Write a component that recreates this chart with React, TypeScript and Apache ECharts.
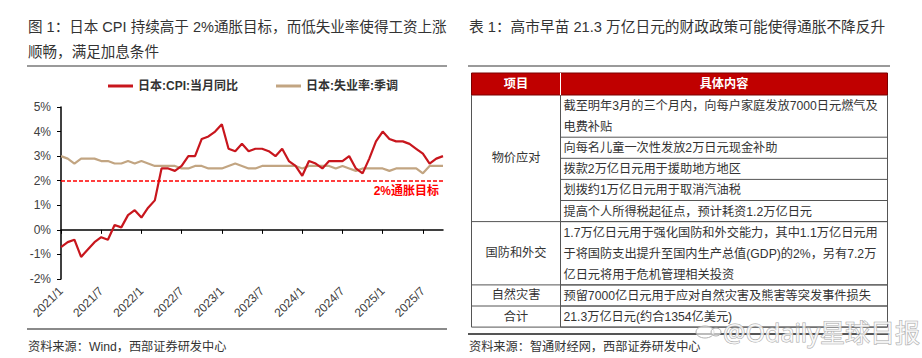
import React, { useEffect, useRef } from "react";
import * as echarts from "echarts";

// ---------- data ----------
const months: string[] = [];
for (let y = 2021; y <= 2025; y++) {
  for (let m = 1; m <= 12; m++) {
    if (y === 2025 && m > 10) break;
    months.push(`${y}/${m}`);
  }
}

const cpiYoY = [
  -0.7, -0.5, -0.4, -1.1, -0.8, -0.5, -0.3, -0.4, 0.2, 0.1, 0.6, 0.8,
  0.5, 0.9, 1.2, 2.5, 2.5, 2.4, 2.6, 3.0, 3.0, 3.7, 3.8, 4.0,
  4.3, 3.3, 3.2, 3.5, 3.2, 3.3, 3.3, 3.2, 3.0, 3.3, 2.8, 2.6,
  2.2, 2.8, 2.7, 2.5, 2.8, 2.8, 2.8, 3.0, 2.5, 2.3, 2.9, 3.6,
  4.0, 3.7, 3.6, 3.6, 3.5, 3.3, 3.1, 2.7, 2.9, 3.0,
];

const unemployment = [
  3.0, 2.9, 2.7, 2.9, 2.9, 2.9, 2.8, 2.8, 2.7, 2.7, 2.8, 2.7,
  2.8, 2.7, 2.6, 2.6, 2.6, 2.6, 2.5, 2.5, 2.6, 2.6, 2.5, 2.5,
  2.5, 2.6, 2.7, 2.6, 2.5, 2.5, 2.6, 2.6, 2.6, 2.6, 2.6, 2.6,
  2.5, 2.6, 2.6, 2.6, 2.6, 2.5, 2.6, 2.5, 2.4, 2.5, 2.5, 2.5,
  2.5, 2.4, 2.5, 2.5, 2.5, 2.5, 2.3, 2.6, 2.6, 2.6,
];

const seriesNames = ["日本:CPI:当月同比", "日本:失业率:季调"];
const inflationTarget = 2;
const targetLabel = "2%通胀目标";

const leftTitle = [
  "图 1：日本 CPI 持续高于 2%通胀目标，而低失业率使得工资上涨",
  "顺畅，满足加息条件",
];
const leftSource = "资料来源：Wind，西部证券研发中心";

const rightTitle = "表 1：高市早苗 21.3 万亿日元的财政政策可能使得通胀不降反升";
const rightSource = "资料来源：智通财经网，西部证券研发中心";
const tableHeader = ["项目", "具体内容"];
const tableGroups = [
  {
    item: "物价应对",
    rows: [
      ["截至明年3月的三个月内，向每户家庭发放7000日元燃气及", "电费补贴"],
      ["向每名儿童一次性发放2万日元现金补助"],
      ["拨款2万亿日元用于援助地方地区"],
      ["划拨约1万亿日元用于取消汽油税"],
      ["提高个人所得税起征点，预计耗资1.2万亿日元"],
    ],
  },
  {
    item: "国防和外交",
    rows: [
      [
        "1.7万亿日元用于强化国防和外交能力，其中1.1万亿日元用",
        "于将国防支出提升至国内生产总值(GDP)的2%，另有7.2万",
        "亿日元将用于危机管理相关投资",
      ],
    ],
  },
  { item: "自然灾害", rows: [["预留7000亿日元用于应对自然灾害及熊害等突发事件损失"]] },
  { item: "合计", rows: [["21.3万亿日元(约合1354亿美元)"]] },
];
const watermark = "@Odaily星球日报";

// ---------- styles ----------
const FONT = "'Liberation Sans', 'Noto Sans CJK SC', sans-serif";
const RED = "#C8161D";
const TAN = "#C2A582";
const TEXT = "#333333";

function buildGraphics() {
  const els: any[] = [];
  const txt = (text: string, x: number, y: number, opts: any = {}) =>
    els.push({
      type: "text",
      silent: true,
      style: {
        text,
        x,
        y,
        fill: opts.fill || TEXT,
        fontSize: opts.fontSize || 12,
        fontWeight: opts.fontWeight || "normal",
        fontFamily: FONT,
        textAlign: opts.align || "left",
        textVerticalAlign: "middle",
      },
      z: 10,
    });
  const hline = (x1: number, x2: number, y: number, color: string, w: number) =>
    els.push({
      type: "line",
      silent: true,
      shape: { x1, y1: y, x2, y2: y },
      style: { stroke: color, lineWidth: w },
      z: 5,
    });
  const vline = (x: number, y1: number, y2: number, color: string, w: number) =>
    els.push({
      type: "line",
      silent: true,
      shape: { x1: x, y1, x2: x, y2 },
      style: { stroke: color, lineWidth: w },
      z: 5,
    });

  // left panel
  txt(leftTitle[0], 28, 27, { fontSize: 14.55 });
  txt(leftTitle[1], 28, 52, { fontSize: 14.55 });
  hline(27, 447, 66, "#9a9a9a", 2);
  hline(27, 447, 329, "#8a8a8a", 2);
  txt(leftSource, 28, 347, { fontSize: 12.2 });

  // right panel
  txt(rightTitle, 469, 27, { fontSize: 14.7 });
  hline(468, 890, 66, "#9a9a9a", 2);
  hline(468, 890, 334, "#555555", 2);
  txt(rightSource, 469, 347, { fontSize: 12.2 });

  // table
  const x0 = 471.5, x1 = 560.5, x2 = 887.5;
  const headTop = 73, headBot = 95;
  const lineH = 21.1;
  els.push({
    type: "rect",
    silent: true,
    shape: { x: x0, y: headTop, width: x2 - x0, height: headBot - headTop },
    style: { fill: "#C00000", stroke: "#7a0000", lineWidth: 1 },
    z: 4,
  });
  vline(x1, headTop, headBot, "#ffffff", 1);
  txt(tableHeader[0], (x0 + x1) / 2, (headTop + headBot) / 2, {
    fill: "#ffffff", fontWeight: "bold", align: "center", fontSize: 12.2,
  });
  txt(tableHeader[1], (x1 + x2) / 2, (headTop + headBot) / 2, {
    fill: "#ffffff", fontWeight: "bold", align: "center", fontSize: 12.2,
  });

  let y = headBot;
  const border = "#555555";
  tableGroups.forEach((g) => {
    const gTop = y;
    g.rows.forEach((lines) => {
      const rTop = y;
      lines.forEach((ln, i) => {
        txt(ln, x1 + 3, rTop + lineH * i + lineH / 2 + 0.5, { fontSize: 12.2 });
      });
      y = rTop + lines.length * lineH;
      hline(x1, x2, y, border, 1);
    });
    txt(g.item, (x0 + x1) / 2, (gTop + y) / 2, { align: "center", fontSize: 12.2 });
    hline(x0, x2, y, border, 1);
  });
  vline(x0, headBot, y, border, 1);
  vline(x1, headBot, y, border, 1);
  vline(x2, headBot, y, border, 1);

  // watermark
  els.push({
    type: "ellipse",
    silent: true,
    shape: { cx: 705, cy: 332, rx: 9, ry: 6 },
    style: { fill: "rgba(255,255,255,0.6)", stroke: "#b0b0b0", lineWidth: 1 },
    z: 20,
  });
  els.push({
    type: "ellipse",
    silent: true,
    shape: { cx: 716, cy: 332, rx: 5, ry: 4 },
    style: { fill: "rgba(255,255,255,0.6)", stroke: "#b0b0b0", lineWidth: 1 },
    z: 20,
  });
  els.push({
    type: "text",
    silent: true,
    style: {
      text: watermark,
      x: 723,
      y: 332,
      fill: "rgba(255,255,255,0.75)",
      stroke: "#a8a8a8",
      lineWidth: 1,
      fontSize: 25,
      fontFamily: "'Noto Sans', 'Noto Sans CJK SC', sans-serif",
      textVerticalAlign: "middle",
    },
    z: 20,
  });
  return els;
}

export default function App() {
  const ref = useRef<HTMLDivElement>(null);
  useEffect(() => {
    if (!ref.current) return;
    const chart = echarts.init(ref.current, null, { renderer: "svg" });
    chart.setOption({
      animation: false,
      backgroundColor: "#ffffff",
      textStyle: { fontFamily: FONT },
      legend: {
        data: seriesNames,
        left: 103,
        top: 75,
        itemWidth: 25,
        itemHeight: 3,
        itemGap: 38,
        icon: "rect",
        textStyle: { fontSize: 12, fontWeight: "bold", color: TEXT, fontFamily: FONT },
      },
      grid: { left: 61, right: 479, top: 107, bottom: 79, containLabel: false },
      xAxis: [
        {
          type: "category",
          data: months,
          boundaryGap: false,
          position: "bottom",
          axisLine: { show: false, onZero: false },
          axisTick: { show: false },
          axisLabel: {
            interval: 5,
            rotate: 45,
            margin: 10,
            fontSize: 12,
            color: "#404040",
            fontFamily: FONT,
          },
        },
        {
          type: "category",
          data: months,
          boundaryGap: false,
          position: "bottom",
          axisLine: { show: true, onZero: true, lineStyle: { color: "#000", width: 1.5 } },
          axisTick: { show: true, interval: 5, length: 4, lineStyle: { color: "#000", width: 1 } },
          axisLabel: { show: false },
        },
      ],
      yAxis: {
        type: "value",
        min: -2,
        max: 5,
        interval: 1,
        axisLine: { show: true, lineStyle: { color: "#000", width: 1.5 } },
        axisTick: { show: true, length: 4, lineStyle: { color: "#000" } },
        splitLine: { show: false },
        axisLabel: {
          formatter: "{value}%",
          fontSize: 12,
          color: "#404040",
          margin: 10,
          fontFamily: FONT,
        },
      },
      series: [
        {
          name: seriesNames[1],
          type: "line",
          data: unemployment,
          symbol: "none",
          lineStyle: { color: TAN, width: 2.2 },
          itemStyle: { color: TAN },
          z: 3,
        },
        {
          name: seriesNames[0],
          type: "line",
          data: cpiYoY,
          symbol: "none",
          lineStyle: { color: RED, width: 2.2 },
          itemStyle: { color: RED },
          z: 4,
          markLine: {
            silent: true,
            symbol: "none",
            data: [{ yAxis: inflationTarget }],
            lineStyle: { color: "#FF0000", type: [4, 2], width: 1.5 },
            label: {
              show: true,
              position: "insideEndBottom",
              formatter: targetLabel,
              color: "#FF0000",
              fontWeight: "bold",
              fontSize: 12,
              distance: 4,
              fontFamily: FONT,
            },
          },
        },
      ],
      graphic: { elements: buildGraphics() },
    });
    return () => chart.dispose();
  }, []);
  return (
    <div
      ref={ref}
      style={{ position: "fixed", left: 0, top: 0, width: 922, height: 358, background: "#fff" }}
    />
  );
}
